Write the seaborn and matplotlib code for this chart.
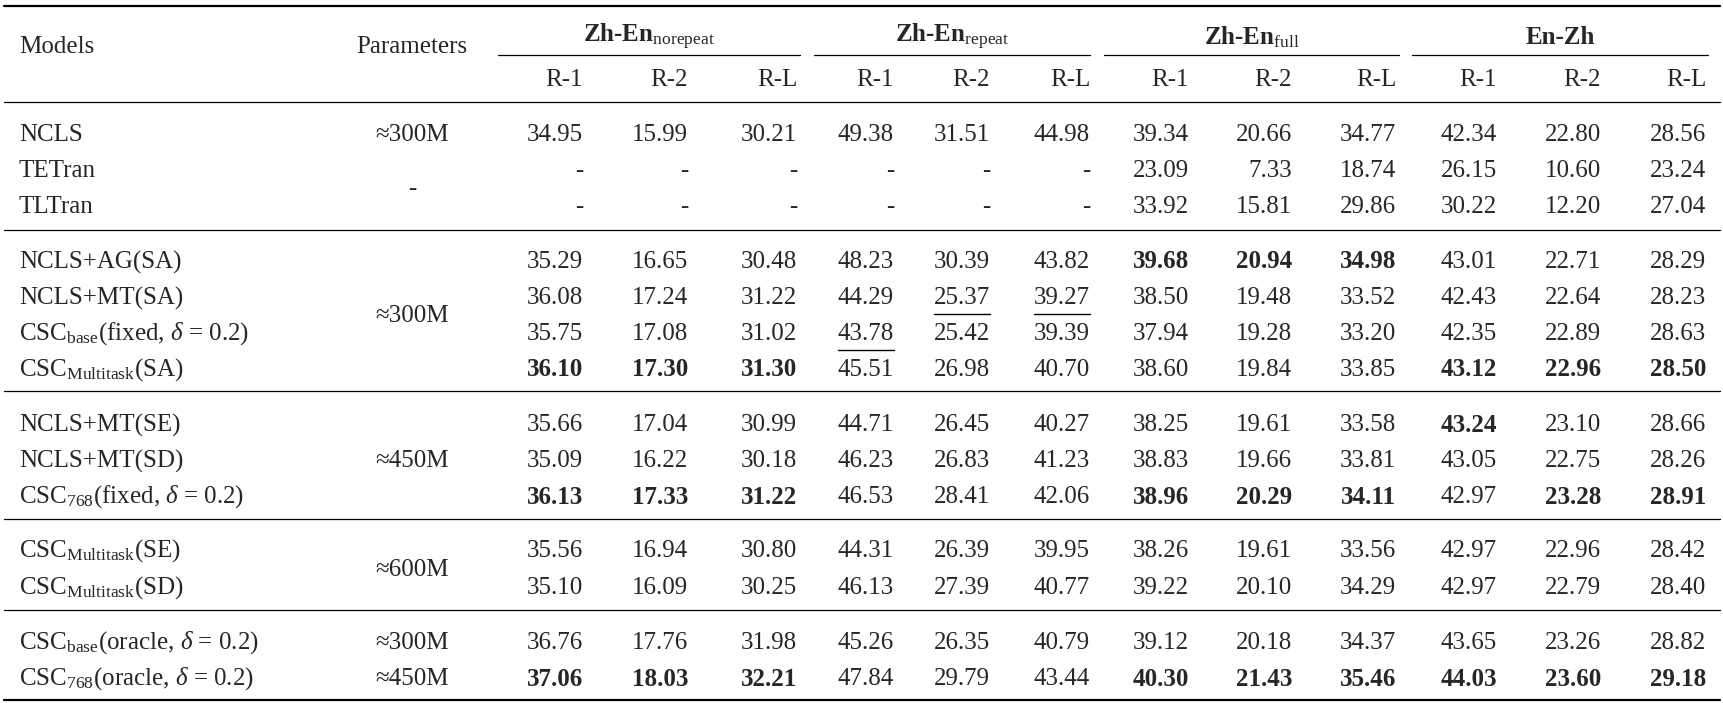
import matplotlib
matplotlib.use("Agg")
import matplotlib.pyplot as plt
import seaborn as sns

models = [
    "NCLS", "TETran", "TLTran",
    "NCLS+AG(SA)", "NCLS+MT(SA)", r"CSC$_{\mathrm{base}}$(fixed, $\delta$ = 0.2)", r"CSC$_{\mathrm{Multitask}}$(SA)",
    "NCLS+MT(SE)", "NCLS+MT(SD)", r"CSC$_{\mathrm{768}}$(fixed, $\delta$ = 0.2)",
    r"CSC$_{\mathrm{Multitask}}$(SE)", r"CSC$_{\mathrm{Multitask}}$(SD)",
    r"CSC$_{\mathrm{base}}$(oracle, $\delta$ = 0.2)", r"CSC$_{\mathrm{768}}$(oracle, $\delta$ = 0.2)",
]
groups = [[0, 1, 2], [3, 4, 5, 6], [7, 8, 9], [10, 11], [12], [13]]
params = [("≈300M", [0]), ("-", [1, 2]), ("≈300M", [3, 4, 5, 6]), ("≈450M", [7, 8, 9]),
          ("≈600M", [10, 11]), ("≈300M", [12]), ("≈450M", [13])]
datasets = [r"Zh-En$_{\mathrm{norepeat}}$", r"Zh-En$_{\mathrm{repeat}}$", r"Zh-En$_{\mathrm{full}}$", "En-Zh"]
metrics = ["R-1", "R-2", "R-L"]
scores = [
    ["34.95", "15.99", "30.21", "49.38", "31.51", "44.98", "39.34", "20.66", "34.77", "42.34", "22.80", "28.56"],
    ["-", "-", "-", "-", "-", "-", "23.09", "7.33", "18.74", "26.15", "10.60", "23.24"],
    ["-", "-", "-", "-", "-", "-", "33.92", "15.81", "29.86", "30.22", "12.20", "27.04"],
    ["35.29", "16.65", "30.48", "48.23", "30.39", "43.82", "39.68", "20.94", "34.98", "43.01", "22.71", "28.29"],
    ["36.08", "17.24", "31.22", "44.29", "25.37", "39.27", "38.50", "19.48", "33.52", "42.43", "22.64", "28.23"],
    ["35.75", "17.08", "31.02", "43.78", "25.42", "39.39", "37.94", "19.28", "33.20", "42.35", "22.89", "28.63"],
    ["36.10", "17.30", "31.30", "45.51", "26.98", "40.70", "38.60", "19.84", "33.85", "43.12", "22.96", "28.50"],
    ["35.66", "17.04", "30.99", "44.71", "26.45", "40.27", "38.25", "19.61", "33.58", "43.24", "23.10", "28.66"],
    ["35.09", "16.22", "30.18", "46.23", "26.83", "41.23", "38.83", "19.66", "33.81", "43.05", "22.75", "28.26"],
    ["36.13", "17.33", "31.22", "46.53", "28.41", "42.06", "38.96", "20.29", "34.11", "42.97", "23.28", "28.91"],
    ["35.56", "16.94", "30.80", "44.31", "26.39", "39.95", "38.26", "19.61", "33.56", "42.97", "22.96", "28.42"],
    ["35.10", "16.09", "30.25", "46.13", "27.39", "40.77", "39.22", "20.10", "34.29", "42.97", "22.79", "28.40"],
    ["36.76", "17.76", "31.98", "45.26", "26.35", "40.79", "39.12", "20.18", "34.37", "43.65", "23.26", "28.82"],
    ["37.06", "18.03", "32.21", "47.84", "29.79", "43.44", "40.30", "21.43", "35.46", "44.03", "23.60", "29.18"],
]
bold = {(3, 6), (3, 7), (3, 8), (6, 0), (6, 1), (6, 2), (6, 9), (6, 10), (6, 11),
        (7, 9), (9, 0), (9, 1), (9, 2), (9, 6), (9, 7), (9, 8), (9, 10), (9, 11),
        (13, 0), (13, 1), (13, 2), (13, 6), (13, 7), (13, 8), (13, 9), (13, 10), (13, 11)}
underline = {(4, 4), (4, 5), (5, 3)}

sns.set_theme(style="white")
plt.rcParams["font.family"] = ["Liberation Serif", "DejaVu Serif"]
plt.rcParams["mathtext.fontset"] = "custom"
plt.rcParams["mathtext.rm"] = "Liberation Serif"
plt.rcParams["mathtext.it"] = "Liberation Serif:italic"
plt.rcParams["mathtext.bf"] = "Liberation Serif:bold"

fig = plt.figure(figsize=(17.24, 7.03), dpi=100)
ax = fig.add_axes([0, 0, 1, 1])
ax.set_xlim(0, 1724)
ax.set_ylim(703, 0)
ax.axis("off")

fs = 18
col_right = [583, 688, 797, 894, 990, 1090, 1189, 1292, 1396, 1497, 1601, 1706]
spans = [(498, 800), (814, 1090), (1104, 1399), (1412, 1708)]
row_y = [135, 171, 207, 262, 298, 334, 370, 425, 461, 497, 551, 588, 643, 679]
rules = [(6, 1.6), (102, 0.9), (230, 0.9), (391, 0.9), (519, 0.9), (610, 0.9), (700, 1.6)]

for y, lw in rules:
    ax.plot([4, 1720], [y, y], color="black", lw=lw)
for (x0, x1), name in zip(spans, datasets):
    ax.plot([x0, x1], [55, 55], color="black", lw=0.9)
    ax.text((x0 + x1) / 2, 37, name, ha="center", va="center", fontsize=fs, fontweight="bold")
ax.text(19, 47, "Models", ha="left", va="center", fontsize=fs)
ax.text(412, 47, "Parameters", ha="center", va="center", fontsize=fs)
for j, xr in enumerate(col_right):
    ax.text(xr, 80, metrics[j % 3], ha="right", va="center", fontsize=fs)

for i, name in enumerate(models):
    ax.text(19, row_y[i], name, ha="left", va="center", fontsize=fs)
for label, rows in params:
    y = sum(row_y[r] for r in rows) / len(rows)
    ax.text(412, y, label, ha="center", va="center", fontsize=fs)

fig.canvas.draw()
renderer = fig.canvas.get_renderer()
inv = ax.transData.inverted()
for i, row in enumerate(scores):
    for j, val in enumerate(row):
        t = ax.text(col_right[j], row_y[i], val, ha="right", va="center", fontsize=fs,
                    fontweight="bold" if (i, j) in bold else "normal")
        if (i, j) in underline:
            bb = t.get_window_extent(renderer)
            (x0, _), (x1, _) = inv.transform([(bb.x0, bb.y0), (bb.x1, bb.y1)])
            ax.plot([x0, x1], [row_y[i] + 16, row_y[i] + 16], color="black", lw=1.0)

fig.savefig("out.png", dpi=100)
